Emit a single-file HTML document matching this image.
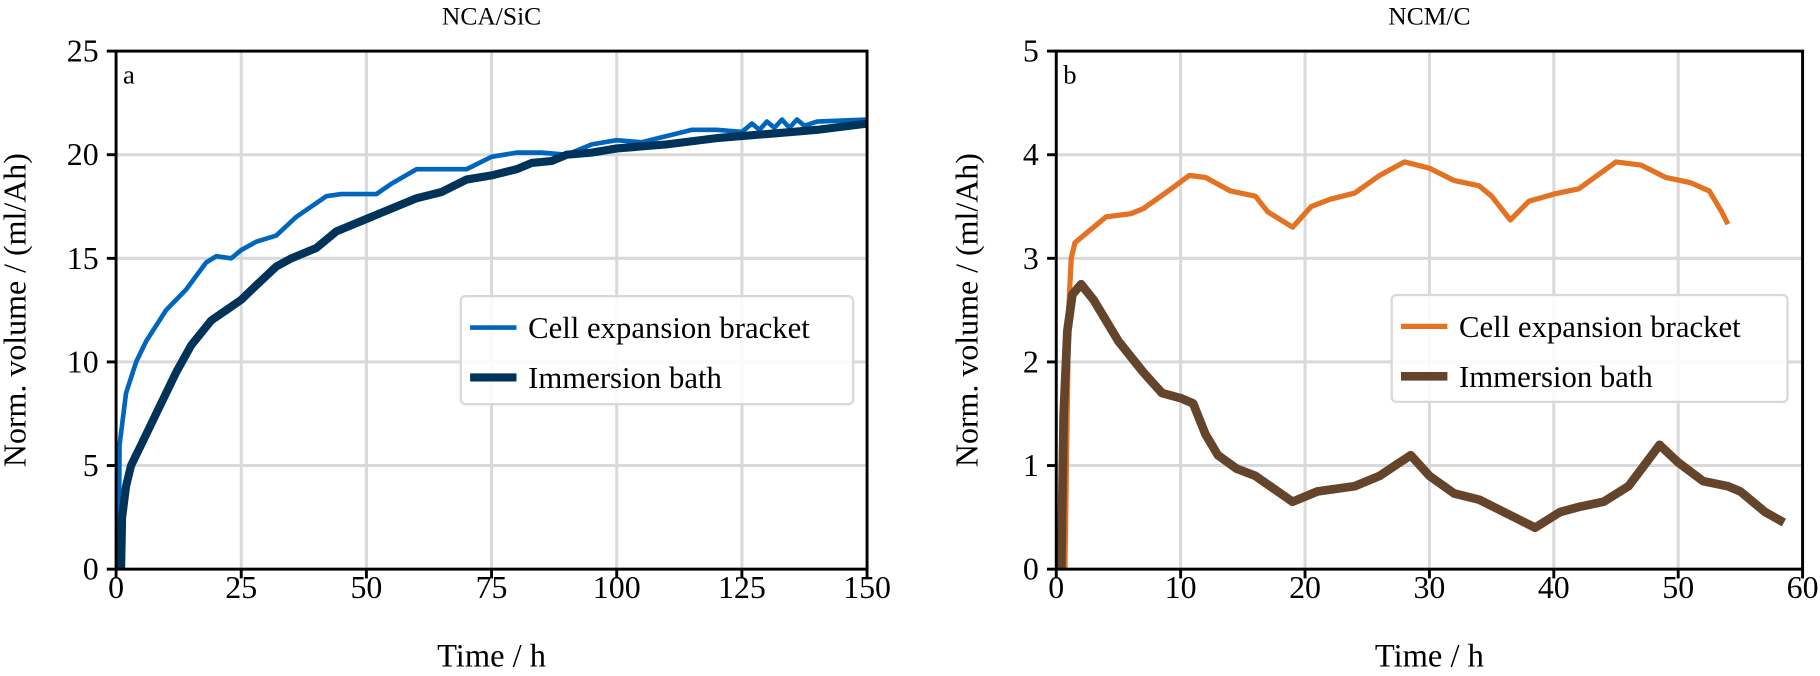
<!DOCTYPE html>
<html><head><meta charset="utf-8"><style>
html,body{margin:0;padding:0;background:#fff;}
svg{display:block;font-family:"Liberation Serif",serif;}
</style></head><body>
<svg id="s" width="1820" height="676" viewBox="0 0 1568 582" preserveAspectRatio="none" xmlns="http://www.w3.org/2000/svg"></svg>
<script>
const s=document.getElementById('s');let h='';
function ax(o){
 const {x0,x1,y0,y1,xmax,ymax,xt,yt}=o;
 const X=v=>x0+(x1-x0)*v/xmax, Y=v=>y0-(y0-y1)*v/ymax;
 xt.forEach(v=>{h+=`<line x1="${X(v)}" y1="${y1}" x2="${X(v)}" y2="${y0}" stroke="#d9d9d9" stroke-width="2.6"/>`;});
 yt.forEach(v=>{h+=`<line x1="${x0}" y1="${Y(v)}" x2="${x1}" y2="${Y(v)}" stroke="#d9d9d9" stroke-width="2.6"/>`;});
 o.series.forEach(sr=>{
  const d=sr.pts.map((p,i)=>(i?'L':'M')+X(p[0]).toFixed(1)+','+Y(p[1]).toFixed(1)).join(' ');
  h+=`<path d="${d}" fill="none" stroke="${sr.c}" stroke-width="${sr.w}" stroke-linejoin="round" stroke-linecap="butt"/>`;
 });
 h+=`<rect x="${x0}" y="${y1}" width="${x1-x0}" height="${y0-y1}" fill="none" stroke="#000" stroke-width="2.5"/>`;
 xt.forEach(v=>{h+=`<line x1="${X(v)}" y1="${y0}" x2="${X(v)}" y2="${y0+8}" stroke="#000" stroke-width="2.5"/><text x="${X(v)}" y="515" font-size="27.5" text-anchor="middle">${v}</text>`;});
 yt.forEach(v=>{h+=`<line x1="${x0-8}" y1="${Y(v)}" x2="${x0}" y2="${Y(v)}" stroke="#000" stroke-width="2.5"/><text x="${x0-15}" y="${Y(v)+9}" font-size="27.5" text-anchor="end">${v}</text>`;});
 h+=`<text x="${(x0+x1)/2}" y="21" font-size="22" text-anchor="middle">${o.title}</text>`;
 h+=`<text x="${(x0+x1)/2}" y="574" font-size="28" text-anchor="middle">Time / h</text>`;
 h+=`<text transform="translate(${o.yl},267) rotate(-90)" font-size="27.5" text-anchor="middle">Norm. volume / (ml/Ah)</text>`;
 h+=`<text x="${x0+6}" y="72" font-size="23">${o.lab}</text>`;
 const L=o.leg;
 h+=`<rect x="${L.x}" y="${L.y}" width="${L.w}" height="${L.h}" rx="4" fill="#fff" fill-opacity="0.85" stroke="#d9d9d9" stroke-width="2"/>`;
 o.series.forEach((sr,i)=>{const yy=L.y+27+i*43;
  h+=`<line x1="${L.x+8}" y1="${yy}" x2="${L.x+48}" y2="${yy}" stroke="${sr.c}" stroke-width="${sr.w}"/><text x="${L.x+58}" y="${yy+9}" font-size="26.5">${sr.n}</text>`;});
}
ax({x0:100,x1:747,y0:490,y1:44,xmax:150,ymax:25,xt:[0,25,50,75,100,125,150],yt:[0,5,10,15,20,25],title:'NCA/SiC',lab:'a',yl:22,
 leg:{x:397,y:255,w:338,h:93},
 series:[
 {n:'Cell expansion bracket',c:'#0065bd',w:4,pts:[[0.5,0],[0.7,6],[2,8.5],[4,10],[6,11],[10,12.5],[14,13.5],[18,14.8],[20,15.1],[23,15],[25,15.4],[28,15.8],[32,16.1],[36,17],[42,18],[45,18.1],[52,18.1],[55,18.6],[60,19.3],[65,19.3],[70,19.3],[75,19.9],[80,20.1],[85,20.1],[90,20],[95,20.5],[100,20.7],[105,20.6],[110,20.9],[115,21.2],[120,21.2],[125,21.1],[127,21.5],[128.5,21.2],[130,21.6],[131.5,21.3],[133,21.7],[134.5,21.3],[136,21.7],[137.5,21.4],[140,21.6],[150,21.7]]},
 {n:'Immersion bath',c:'#003359',w:7,pts:[[1,0],[1.2,2.5],[2,4],[3,5],[5,6],[8,7.5],[12,9.5],[15,10.8],[19,12],[22,12.5],[25,13],[28,13.7],[32,14.6],[35,15],[40,15.5],[44,16.3],[46,16.5],[50,16.9],[55,17.4],[60,17.9],[65,18.2],[70,18.8],[75,19],[80,19.3],[83,19.6],[87,19.7],[90,20],[95,20.1],[100,20.3],[110,20.5],[120,20.8],[130,21],[140,21.2],[150,21.5]]}
 ]});
ax({x0:910,x1:1553,y0:490,y1:44,xmax:60,ymax:5,xt:[0,10,20,30,40,50,60],yt:[0,1,2,3,4,5],title:'NCM/C',lab:'b',yl:842,
 leg:{x:1199,y:254,w:341,h:92},
 series:[
 {n:'Cell expansion bracket',c:'#e37222',w:4.5,pts:[[0.7,0],[1,2.5],[1.2,3.0],[1.5,3.15],[2.5,3.25],[4,3.4],[6,3.43],[7,3.48],[9,3.65],[10.7,3.8],[12,3.78],[14,3.65],[16,3.6],[17,3.45],[19,3.3],[20.5,3.5],[22,3.57],[24,3.63],[26,3.8],[28,3.93],[30,3.87],[32,3.75],[34,3.7],[35,3.6],[36.5,3.37],[38,3.55],[40,3.62],[42,3.67],[45,3.93],[47,3.9],[49,3.78],[51,3.73],[52.5,3.65],[53.5,3.45],[54,3.33]]},
 {n:'Immersion bath',c:'#65442c',w:7.5,pts:[[0.4,0],[0.6,1.5],[0.9,2.3],[1.3,2.65],[2,2.75],[3,2.6],[5,2.2],[7,1.9],[8.5,1.7],[10,1.65],[11,1.6],[12,1.3],[13,1.1],[14.5,0.97],[16,0.9],[19,0.65],[21,0.75],[24,0.8],[26,0.9],[28.5,1.1],[30,0.9],[32,0.73],[34,0.67],[36,0.55],[38.5,0.4],[40.5,0.55],[42,0.6],[44,0.65],[46,0.8],[48.5,1.2],[50,1.03],[52,0.85],[54,0.8],[55,0.75],[57,0.55],[58.5,0.45]]}
 ]});
s.innerHTML=h;
</script>
</body></html>
